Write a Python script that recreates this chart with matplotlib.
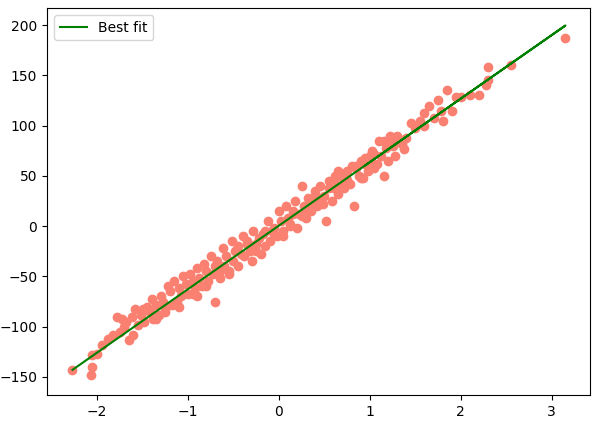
import matplotlib
matplotlib.use("Agg")
import matplotlib.pyplot as plt
import numpy as np

x_vals = [-2.27,-2.07,-2.05,-2.05,-2.0,-1.95,-1.88,-1.82,-1.78,-1.75,-1.72,-1.70,-1.68,-1.65,-1.62,-1.58,-1.55,-1.52,-1.50,-1.48,
          -1.45,-1.42,-1.40,-1.38,-1.35,-1.32,-1.30,-1.28,-1.25,-1.22,-1.20,-1.18,-1.15,-1.12,-1.10,-1.08,-1.05,-1.02,-1.00,-0.98,
          -0.95,-0.92,-0.90,-0.88,-0.85,-0.82,-0.80,-0.78,-0.75,-0.72,-0.70,-0.70,-0.68,-0.65,-0.62,-0.60,-0.58,-0.55,-0.52,-0.50,
          -0.48,-0.45,-0.42,-0.40,-0.38,-0.35,-0.32,-0.30,-0.28,-0.25,-0.22,-0.20,-0.18,-0.15,-0.12,-0.10,-0.08,-0.05,-0.02,0.00,
          0.02,0.05,0.08,0.10,0.12,0.15,0.18,0.20,0.22,0.25,0.25,0.28,0.30,0.32,0.35,0.38,0.40,0.42,0.45,0.48,
          0.50,0.52,0.55,0.58,0.60,0.62,0.65,0.68,0.70,0.72,0.75,0.78,0.80,0.82,0.85,0.88,0.90,0.92,0.95,0.98,
          1.00,1.02,1.05,1.08,1.10,1.12,1.15,1.18,1.20,1.22,1.25,1.28,1.30,1.35,1.40,1.45,1.50,1.55,1.60,1.60,
          1.65,1.70,1.75,1.78,1.80,1.85,1.90,1.95,2.00,2.10,2.20,2.28,2.30,2.30,2.55,3.15,
          -1.60,-1.35,-1.10,-0.90,-0.65,-0.45,-0.30,-0.15,0.05,0.15,0.30,0.45,0.60,0.75,0.90,1.05,1.20,1.38,
          -0.95,-0.55,-0.25,-0.05,0.12,0.35,0.55,0.70,0.85,1.00,1.15,1.30,-1.25,-0.80,-0.35,0.40,0.65,0.95]
y_vals = [-143,-148,-140,-128,-127,-118,-112,-108,-90,-105,-92,-100,-95,-113,-90,-82,-98,-88,-82,-95,
          -80,-85,-72,-92,-78,-88,-70,-75,-82,-60,-65,-78,-55,-75,-62,-70,-50,-58,-68,-48,
          -55,-62,-42,-52,-60,-38,-45,-55,-30,-48,-75,-40,-35,-52,-22,-40,-30,-45,-15,-35,
          -25,-40,-28,-10,-30,-15,-25,-20,-5,-18,-12,-28,-8,-20,5,-15,-5,-2,-10,15,
          5,-5,20,8,0,15,25,-2,12,40,10,20,8,28,15,25,35,20,40,22,
          30,5,38,25,45,50,32,40,48,38,55,42,60,20,58,50,65,48,68,55,
          70,75,58,62,85,70,50,78,65,90,80,70,85,82,88,103,98,105,100,113,
          120,108,125,115,105,135,115,128,128,130,130,140,145,158,160,187,
          -108,-92,-80,-70,-45,-20,-35,-5,-10,12,15,28,38,46,48,72,85,77,
          -68,-48,-25,-8,2,22,45,52,60,65,85,90,-85,-60,-18,30,55,62]

fit_slope = 63.2
fit_intercept = 0.5

fig = plt.figure(figsize=(6.04, 4.21), dpi=100)
ax = fig.add_axes([47/604, 1-395/421, 543/604, 387/421])
ax.scatter(x_vals, y_vals, color="salmon", s=36)
xa = np.array(x_vals)
ax.plot(xa, fit_slope*xa + fit_intercept, color="green", label="Best fit")
ax.set_xlim(-2.55, 3.42)
ax.set_ylim(-168, 217)
ax.set_yticks([-150,-100,-50,0,50,100,150,200])
ax.legend(loc="upper left")
fig.savefig("out.png", dpi=100)
